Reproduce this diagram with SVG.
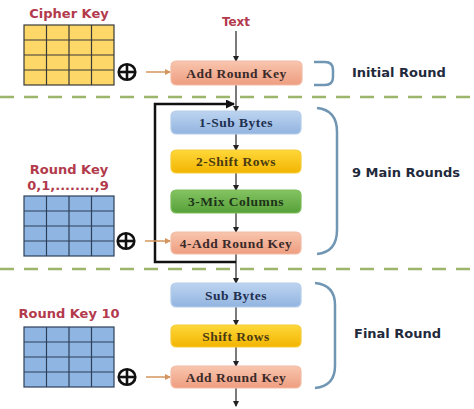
<svg xmlns="http://www.w3.org/2000/svg" width="474" height="409" viewBox="0 0 474 409">
<defs>
<style>
.lbl{font-family:"DejaVu Sans","Liberation Sans",sans-serif;font-weight:bold;font-size:13px}
.red{fill:#b23a4c}
.dark{fill:#1f2a3c}
.bt{font-family:"Liberation Serif","Times New Roman",serif;font-weight:bold;font-size:13.5px;letter-spacing:0.5px;text-anchor:middle}
.box{stroke-width:1.2}
.dash{stroke:#9bb56a;stroke-width:2.5;stroke-dasharray:14 10;fill:none}
.brace{stroke:#7096b4;stroke-width:2.5;fill:none}
.flow{stroke:#222;stroke-width:1.2;fill:none;marker-end:url(#ah)}
.orange{stroke:#d5955e;stroke-width:1.5;fill:none;marker-end:url(#ao)}
.xor ellipse{fill:#fff;stroke:#111;stroke-width:2.6}
.xor line{stroke:#111;stroke-width:2.6}
.gy rect{fill:#fdd768;stroke:#3a3a3a;stroke-width:1.2}
.gb rect{fill:#8fb6e3;stroke:#2d3e58;stroke-width:1.2}
</style>
<marker id="ah" markerWidth="6" markerHeight="6" refX="5" refY="3" orient="auto" markerUnits="userSpaceOnUse"><path d="M0,0 L6,3 L0,6 Z" fill="#222"/></marker>
<marker id="ao" markerWidth="6" markerHeight="6" refX="5" refY="3" orient="auto" markerUnits="userSpaceOnUse"><path d="M0,0 L6,3 L0,6 Z" fill="#d5955e"/></marker>
<marker id="ab" markerWidth="9" markerHeight="9" refX="8" refY="4.5" orient="auto" markerUnits="userSpaceOnUse"><path d="M0,0 L9,4.5 L0,9 Z" fill="#111"/></marker>
<linearGradient id="gAdd" x1="0" y1="0" x2="0" y2="1"><stop offset="0" stop-color="#f8c6ae"/><stop offset="1" stop-color="#ee9d80"/></linearGradient>
<linearGradient id="gSub" x1="0" y1="0" x2="0" y2="1"><stop offset="0" stop-color="#bdd4f0"/><stop offset="1" stop-color="#92b4e0"/></linearGradient>
<linearGradient id="gShift" x1="0" y1="0" x2="0" y2="1"><stop offset="0" stop-color="#ffd83a"/><stop offset="1" stop-color="#f2b400"/></linearGradient>
<linearGradient id="gMix" x1="0" y1="0" x2="0" y2="1"><stop offset="0" stop-color="#84c462"/><stop offset="1" stop-color="#57a03a"/></linearGradient>
<g id="gridY" class="gy">
<rect x="0" y="0" width="90" height="60"/>
<path d="M22.5,0V60M45,0V60M67.5,0V60M0,15H90M0,30H90M0,45H90" stroke="#3a3a3a" stroke-width="1.2" fill="none"/>
</g>
<g id="gridB" class="gb">
<rect x="0" y="0" width="90" height="60"/>
<path d="M22.5,0V60M45,0V60M67.5,0V60M0,15H90M0,30H90M0,45H90" stroke="#2d3e58" stroke-width="1.2" fill="none"/>
</g>
<g id="xorSym" class="xor">
<ellipse cx="0" cy="0" rx="8.3" ry="7.8"/>
<line x1="-8.3" y1="0" x2="8.3" y2="0"/>
<line x1="0" y1="-7.8" x2="0" y2="7.8"/>
</g>
</defs>
<rect width="474" height="409" fill="#fff"/>

<g id="separators">
<line class="dash" x1="0" y1="97" x2="474" y2="97"/>
<line class="dash" x1="0" y1="269" x2="474" y2="269"/>
</g>

<g id="connectors">
<line class="flow" x1="236" y1="31" x2="236" y2="61"/>
<line class="flow" x1="236" y1="85" x2="236" y2="111"/>
<line class="flow" x1="236" y1="134" x2="236" y2="150"/>
<line class="flow" x1="236" y1="173" x2="236" y2="190"/>
<line class="flow" x1="236" y1="213" x2="236" y2="232"/>
<line class="flow" x1="236" y1="254" x2="236" y2="283"/>
<line class="flow" x1="236" y1="307" x2="236" y2="325"/>
<line class="flow" x1="236" y1="347" x2="236" y2="366"/>
<line class="flow" x1="236" y1="388" x2="236" y2="406"/>
<path d="M236,262 H155 V104 H234" stroke="#111" stroke-width="2.5" fill="none" marker-end="url(#ab)"/>
<line class="orange" x1="146" y1="72" x2="170" y2="72"/>
<line class="orange" x1="145" y1="241" x2="170" y2="241"/>
<line class="orange" x1="146" y1="377" x2="170" y2="377"/>
</g>

<g id="text-input"><text class="lbl red" x="236" y="26" text-anchor="middle" style="font-size:12px">Text</text></g>

<g id="cipher-key">
<text class="lbl red" x="69" y="18" text-anchor="middle">Cipher Key</text>
<use href="#gridY" x="24" y="25"/>
</g>
<g id="xor-1"><use href="#xorSym" x="127" y="72"/></g>

<g id="round-key">
<text class="lbl red" x="69" y="174" text-anchor="middle">Round Key</text>
<text class="lbl red" x="68" y="190" text-anchor="middle">0,1,........,9</text>
<use href="#gridB" x="24" y="196"/>
</g>
<g id="xor-2"><use href="#xorSym" x="126" y="241"/></g>

<g id="round-key-10">
<text class="lbl red" x="69" y="318" text-anchor="middle">Round Key 10</text>
<use href="#gridB" x="24" y="327"/>
</g>
<g id="xor-3"><use href="#xorSym" x="127" y="377"/></g>

<g id="add-round-key-0">
<rect class="box" x="171" y="61" width="131" height="24" rx="5" fill="url(#gAdd)" stroke="#f2bca6"/>
<text class="bt" x="236.5" y="77.5" fill="#3a2a2a">Add Round Key</text>
</g>
<g id="sub-bytes-1">
<rect class="box" x="171" y="111" width="130" height="23" rx="5" fill="url(#gSub)" stroke="#b5cdea"/>
<text class="bt" x="236" y="127" fill="#1f2f50">1-Sub Bytes</text>
</g>
<g id="shift-rows-2">
<rect class="box" x="171" y="150" width="130" height="23" rx="5" fill="url(#gShift)" stroke="#f6cc3a"/>
<text class="bt" x="236" y="166" fill="#4a3a12">2-Shift Rows</text>
</g>
<g id="mix-columns-3">
<rect class="box" x="171" y="190" width="130" height="23" rx="5" fill="url(#gMix)" stroke="#7cbc5a"/>
<text class="bt" x="236" y="206" fill="#1c3318">3-Mix Columns</text>
</g>
<g id="add-round-key-4">
<rect class="box" x="171" y="232" width="130" height="22" rx="5" fill="url(#gAdd)" stroke="#f2bca6"/>
<text class="bt" x="236" y="247.5" fill="#3a2a2a">4-Add Round Key</text>
</g>
<g id="sub-bytes-final">
<rect class="box" x="171" y="283" width="130" height="24" rx="5" fill="url(#gSub)" stroke="#b5cdea"/>
<text class="bt" x="236" y="299.5" fill="#1f2f50">Sub Bytes</text>
</g>
<g id="shift-rows-final">
<rect class="box" x="171" y="325" width="130" height="22" rx="5" fill="url(#gShift)" stroke="#f6cc3a"/>
<text class="bt" x="236" y="340.5" fill="#4a3a12">Shift Rows</text>
</g>
<g id="add-round-key-final">
<rect class="box" x="171" y="366" width="130" height="22" rx="5" fill="url(#gAdd)" stroke="#f2bca6"/>
<text class="bt" x="236" y="381.5" fill="#3a2a2a">Add Round Key</text>
</g>

<g id="initial-round">
<path class="brace" d="M314,62 H325 Q333,62 333,70 V77 Q333,85 325,85 H314"/>
<text class="lbl dark" x="352" y="77">Initial Round</text>
</g>
<g id="main-rounds">
<path class="brace" d="M317,108 Q337,110 337,132 V230 Q337,252 317,254"/>
<text class="lbl dark" x="352" y="177">9 Main Rounds</text>
</g>
<g id="final-round">
<path class="brace" d="M315,283 Q335,285 335,305 V366 Q335,386 315,388"/>
<text class="lbl dark" x="354" y="338">Final Round</text>
</g>
</svg>
